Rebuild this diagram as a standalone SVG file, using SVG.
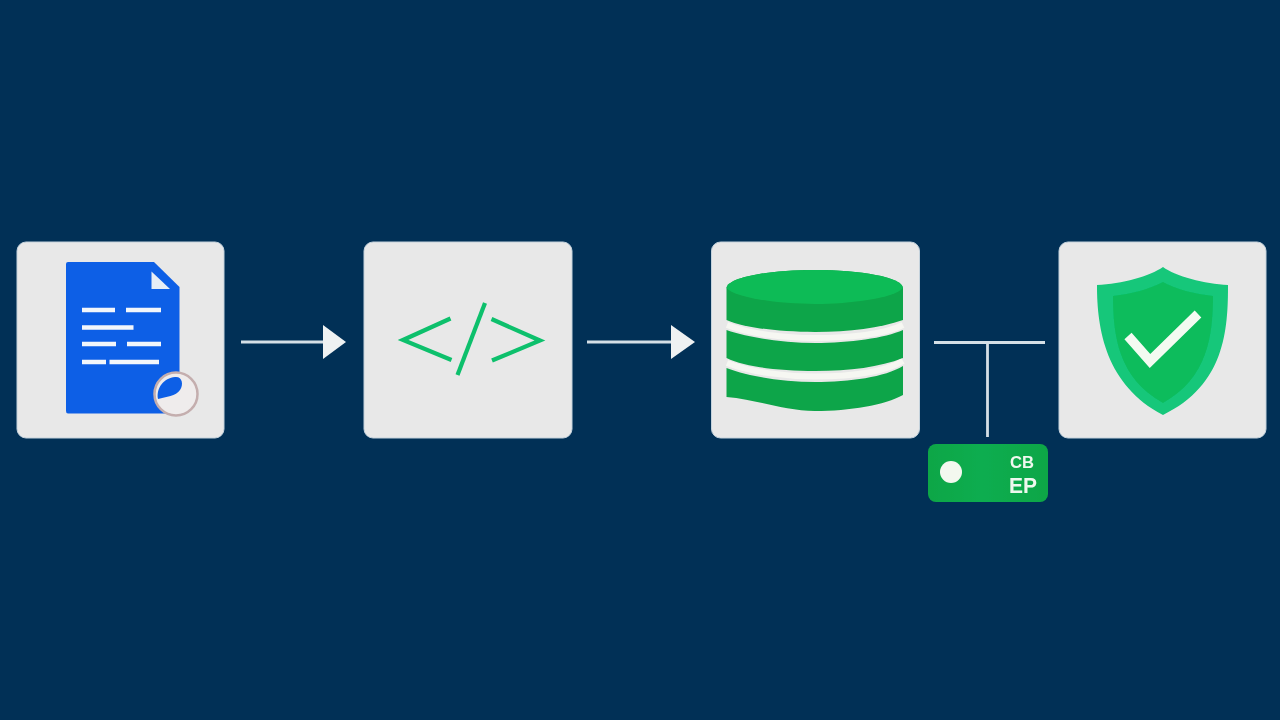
<svg xmlns="http://www.w3.org/2000/svg" width="1280" height="720" viewBox="0 0 1280 720">
<defs>
<filter id="soft" x="0" y="0" width="1280" height="720" filterUnits="userSpaceOnUse"><feGaussianBlur stdDeviation="0.55"/></filter>
<linearGradient id="tagfill" x1="0" y1="0" x2="1" y2="0"><stop offset="0" stop-color="#0ca646"/><stop offset="0.45" stop-color="#11ad50"/><stop offset="1" stop-color="#0ca646"/></linearGradient>
<style>
.card{fill:#e8e8e8;stroke:#c4d2dc;stroke-width:1}
.wl{stroke:#f2f6fb;stroke-width:4.500;fill:none}
.conn{stroke:#d5dfe6;stroke-width:2.800;fill:none}
.head{fill:#eef1f2}
.code{stroke:#0cc06c;stroke-width:4.200;stroke-linejoin:miter;fill:none}
.gap{stroke:#f6f7f2;stroke-width:6;fill:none}
.tag{font-family:"Liberation Sans",Arial,sans-serif;font-weight:700;fill:#eef8ee;text-anchor:middle}
</style>
</defs>
<rect width="1280" height="720" fill="#013056"/>
<g filter="url(#soft)">
<g id="connectors">
<path class="conn" d="M241 342H325"/><path class="head" d="M323 325L346 342L323 359Z"/>
<path class="conn" d="M587 342H673"/><path class="head" d="M671 325L695 342L671 359Z"/>
<path class="conn" d="M934 342.500H1045"/>
<path class="conn" d="M987.500 342.500V437"/>
</g>
<g id="node-document">
<rect class="card" x="17" y="242" width="207" height="196" rx="9"/>
<path d="M68 262H154L179.500 287V413.500H68Q66 413.500 66 411V264Q66 262 68 262Z" fill="#0f5fe6"/>
<path d="M151.500 271.500L170 289H151.500Z" fill="#e6edf6"/>
<path class="wl" d="M82 310H115M126 310H161M82 327.500H133.500M82 344H116M127 344H161M82 362H106M109.500 362H159"/>
<circle cx="176" cy="394" r="21.500" fill="#efecec" stroke="#c4aeae" stroke-width="2.500"/>
<path d="M158 399C156 388 164 378 175 377C182 376 184 384 180 390C176 396 166 397 158 399Z" fill="#0f5fe6"/>
</g>
<g id="node-code">
<rect class="card" x="364" y="242" width="208" height="196" rx="9"/>
<path class="code" d="M450.500 318.500L403 340L451.500 360"/>
<path class="code" d="M485 303L457.500 375"/>
<path class="code" d="M491.500 319L540 340.500L492 360.500"/>
</g>
<g id="node-database">
<rect class="card" x="711.500" y="242" width="208" height="196" rx="9"/>
<path d="M726.500 288C728 277 770 270 815 270C860 270 902 277 903 288V320C880 328 850 332 815 332C780 332 745 328 726.500 320Z" fill="#0ea548"/>
<path d="M726.500 288C728 277 770 270 815 270C860 270 902 277 903 288C895 298 850 304 815 304C780 304 735 298 726.500 288Z" fill="#0dbb56"/>
<path d="M726.500 330C750 338 785 343 815 343C850 343 885 338 903 330V358C880 367 850 371 815 371C780 371 745 367 726.500 358Z" fill="#0ea548"/>
<path d="M726.500 368C750 377 785 382 815 382C850 382 885 377 903 366V395C885 405 850 411 815 411C785 411 755 399 726.500 397Z" fill="#0ea548"/>
<path class="gap" d="M727 325C750 334 785 338 815 338C850 338 885 334 903 325"/>
<path class="gap" d="M727 363C750 372 785 376.500 815 376.500C850 376.500 885 372 903 361"/>
</g>
<g id="node-shield">
<rect class="card" x="1059" y="242" width="207" height="196" rx="9"/>
<path d="M1163 267C1175 276 1205 284 1228 285C1228 330 1225 385 1163 415C1106 385 1097 330 1097 285C1122 284 1150 276 1163 267Z" fill="#14c77a"/>
<path d="M1163 282C1175 289 1195 294 1213 296C1213 335 1208 378 1163 403C1118 378 1113 335 1113 296C1131 294 1150 289 1163 282Z" fill="#0cbc5c"/>
<path d="M1128 336L1150 361L1198 314" fill="none" stroke="#f3fbf1" stroke-width="9.500"/>
</g>
<g id="node-tag">
<rect x="928" y="444" width="120" height="58" rx="8" fill="url(#tagfill)"/>
<circle cx="951" cy="472" r="11" fill="#f3f8ef"/>
<text class="tag" x="1022" y="468" font-size="16" textLength="24" lengthAdjust="spacingAndGlyphs">CB</text>
<text class="tag" x="1023" y="493" font-size="22" textLength="28" lengthAdjust="spacingAndGlyphs">EP</text>
</g>
</g>
</svg>
